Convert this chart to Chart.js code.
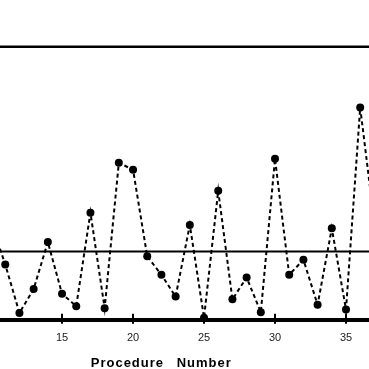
<!DOCTYPE html>
<html>
<head>
<meta charset="utf-8">
<script src="https://cdn.jsdelivr.net/npm/chart.js@4.4.0/dist/chart.umd.min.js"></script>
<style>
  html, body { margin: 0; padding: 0; background: #fff; }
  #wrap { width: 369px; height: 369px; }
</style>
</head>
<body>
<div id="wrap"><canvas id="chart" width="369" height="369"></canvas></div>
<script>
// procedure numbers and measured values (cropped control chart)
const procedures = [10, 11, 12, 13, 14, 15, 16, 17, 18, 19, 20, 21, 22, 23, 24, 25, 26, 27, 28, 29, 30, 31, 32, 33, 34, 35, 36, 37];
const values     = [1.43, 0.81, 0.10, 0.45, 1.14, 0.38, 0.20, 1.57, 0.17, 2.30, 2.20, 0.93, 0.66, 0.34, 1.39, 0.03, 1.89, 0.30, 0.62, 0.11, 2.36, 0.66, 0.88, 0.22, 1.34, 0.15, 3.11, 1.42];
const xTicks     = [15, 20, 25, 30, 35];
const meanLine   = 1.0;
const upperLimit = 4.0;
const xRange     = [10.63, 36.62];
const yRange     = [0, 4.686];
const xTitle     = 'Procedure Number';

const points = procedures.map((p, i) => ({ x: p, y: values[i] }));
const flat = v => xRange.map(x => ({ x, y: v }));

// tick stubs above the axis line + bold title with letter spacing
const extras = {
  id: 'extras',
  afterDraw(chart) {
    const { ctx, chartArea, scales } = chart;
    ctx.save();
    ctx.strokeStyle = '#000';
    ctx.lineWidth = 2;
    xTicks.forEach(t => {
      const x = Math.round(scales.x.getPixelForValue(t));
      ctx.beginPath();
      ctx.moveTo(x, chartArea.bottom - 6);
      ctx.lineTo(x, chartArea.bottom);
      ctx.stroke();
    });
    ctx.fillStyle = '#000';
    ctx.font = 'bold 13px "Liberation Sans", Arial, sans-serif';
    ctx.letterSpacing = '1px';
    ctx.wordSpacing = '8px';
    ctx.textAlign = 'center';
    ctx.textBaseline = 'middle';
    ctx.fillText(xTitle, chartArea.left + chartArea.width * 0.437, 363);
    ctx.restore();
  }
};

new Chart(document.getElementById('chart'), {
  type: 'line',
  data: {
    datasets: [
      {
        data: points,
        borderColor: '#000',
        backgroundColor: '#000',
        borderWidth: 2,
        borderDash: [4, 3],
        pointRadius: 4,
        pointBorderWidth: 0,
        tension: 0
      },
      {
        data: flat(meanLine),
        borderColor: '#000',
        borderWidth: 2,
        pointRadius: 0
      },
      {
        data: flat(upperLimit),
        borderColor: '#000',
        borderWidth: 2.5,
        pointRadius: 0
      }
    ]
  },
  options: {
    responsive: false,
    animation: false,
    clip: false,
    layout: { autoPadding: false, padding: { left: 0, right: 0, top: 0, bottom: 16 } },
    plugins: { legend: { display: false }, tooltip: { enabled: false } },
    scales: {
      x: {
        type: 'linear',
        min: xRange[0],
        max: xRange[1],
        afterBuildTicks: s => { s.ticks = xTicks.map(v => ({ value: v })); },
        grid: { drawOnChartArea: false, color: '#000', lineWidth: 2, tickLength: 4 },
        border: { display: true, color: '#000', width: 4 },
        ticks: {
          color: '#222',
          padding: 8,
          maxRotation: 0,
          font: { family: '"Liberation Sans", Arial, sans-serif', size: 11 }
        }
      },
      y: {
        display: false,
        min: yRange[0],
        max: yRange[1]
      }
    }
  },
  plugins: [extras]
});
</script>
</body>
</html>
